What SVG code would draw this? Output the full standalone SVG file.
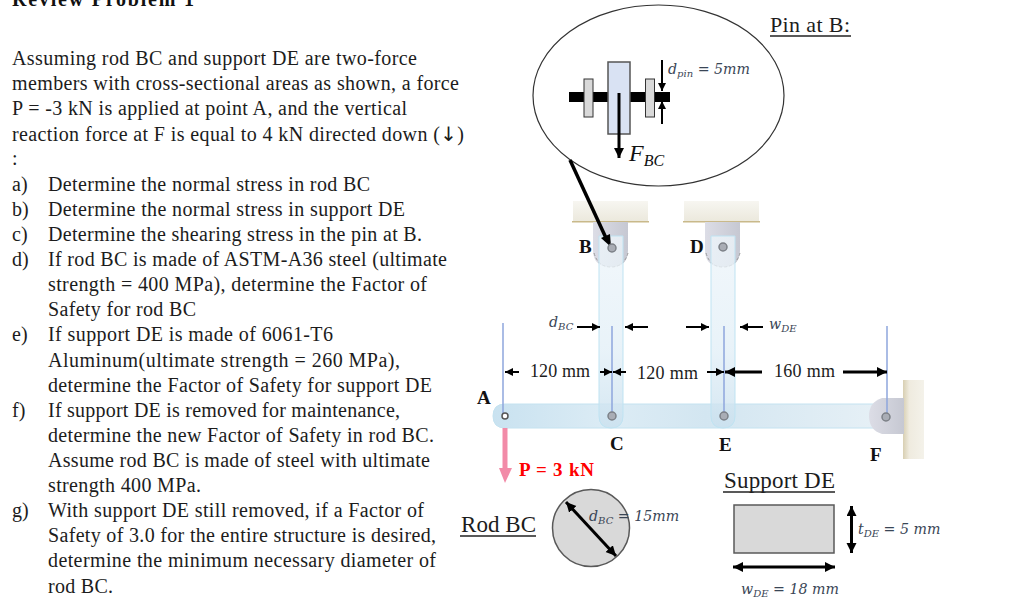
<svg xmlns="http://www.w3.org/2000/svg" width="1014" height="616" viewBox="0 0 1014 616">
<style>
.t{font-family:"Liberation Serif","Times New Roman",serif;font-size:20px;fill:#1c1c1c}
.b{font-family:"Liberation Serif","Times New Roman",serif;font-weight:bold;font-size:19px;fill:#111}
.dim{font-family:"Liberation Serif","Times New Roman",serif;font-size:18px;fill:#1c1c1c}
.m{font-family:"DejaVu Serif",serif;font-style:italic;font-size:14.2px;fill:#3a4656}
.s{font-size:10px}
.u{stroke:#222;stroke-width:1.6;fill:none}
.a{stroke:#000;stroke-width:2;fill:none;marker-end:url(#h)}
.a3{stroke:#000;stroke-width:3;fill:none;marker-end:url(#hb)}
.aa{stroke:#000;stroke-width:3;fill:none;marker-end:url(#hb);marker-start:url(#hb)}
.blue{stroke:#8ea6dc;stroke-width:1.5;fill:none}
.pin{fill:#a9adb5;stroke:#7c8087;stroke-width:1.5}
.rod{fill:url(#rv);fill-opacity:.78;stroke:#bfe3f2;stroke-width:1}
.cl{fill:url(#cg)}
.top{fill:url(#tg)}
.sec{fill:#d9d9d9;stroke:#595959;stroke-width:1.5}
</style>
<defs>
<marker id="h" markerUnits="userSpaceOnUse" markerWidth="10" markerHeight="10" refX="8" refY="4" orient="auto-start-reverse"><path d="M0 0L8 4L0 8Z" fill="#000"/></marker>
<marker id="hb" markerUnits="userSpaceOnUse" markerWidth="12" markerHeight="12" refX="10" refY="5" orient="auto-start-reverse"><path d="M0 0L10 5L0 10Z" fill="#000"/></marker>
<linearGradient id="rv" x1="0" y1="0" x2="0" y2="1"><stop offset="0" stop-color="#eef5fa"/><stop offset="0.6" stop-color="#e2eff7"/><stop offset="1" stop-color="#c9e0ee"/></linearGradient>
<linearGradient id="rh" x1="0" y1="0" x2="1" y2="0"><stop offset="0" stop-color="#c9e2f0"/><stop offset="0.3" stop-color="#dcecf5"/><stop offset="0.55" stop-color="#d3e6f1"/><stop offset="1" stop-color="#e6f0f6"/></linearGradient>
<linearGradient id="cg" x1="0" y1="0" x2="1" y2="0"><stop offset="0" stop-color="#dcdde6"/><stop offset="1" stop-color="#c6c8d2"/></linearGradient>
<linearGradient id="tg" x1="0" y1="0" x2="0" y2="1"><stop offset="0" stop-color="#f7f6f1"/><stop offset="1" stop-color="#ebe8dc"/></linearGradient>
<linearGradient id="wg" x1="0" y1="0" x2="1" y2="0"><stop offset="0" stop-color="#d8cfb2"/><stop offset="0.3" stop-color="#efebdf"/><stop offset="1" stop-color="#f4f2ea"/></linearGradient>
</defs>

<g id="problem-text">
<text class="b" x="12" y="6" textLength="182" style="font-size:20px">Review Problem 1</text>
<text class="t" x="12" y="65" textLength="405">Assuming rod BC and support DE are two-force</text>
<text class="t" x="12" y="90" textLength="447">members with cross-sectional areas as shown, a force</text>
<text class="t" x="12" y="115" textLength="395">P = -3 kN is applied at point A, and the vertical</text>
<text class="t" x="12" y="141" textLength="452">reaction force at F is equal to 4 kN directed down (<tspan font-family="DejaVu Sans,sans-serif">↓</tspan>)</text>
<text class="t" x="12" y="165">:</text>
<text class="t" x="12" y="191">a)</text><text class="t" x="48" y="191" textLength="322">Determine the normal stress in rod BC</text>
<text class="t" x="12" y="216">b)</text><text class="t" x="48" y="216" textLength="357">Determine the normal stress in support DE</text>
<text class="t" x="12" y="241">c)</text><text class="t" x="48" y="241" textLength="374">Determine the shearing stress in the pin at B.</text>
<text class="t" x="12" y="266">d)</text><text class="t" x="48" y="266" textLength="399">If rod BC is made of ASTM-A36 steel (ultimate</text>
<text class="t" x="48" y="291" textLength="379">strength = 400 MPa), determine the Factor of</text>
<text class="t" x="48" y="316" textLength="148">Safety for rod BC</text>
<text class="t" x="12" y="341">e)</text><text class="t" x="48" y="341" textLength="285">If support DE is made of 6061-T6</text>
<text class="t" x="48" y="367" textLength="352">Aluminum(ultimate strength = 260 MPa),</text>
<text class="t" x="48" y="392" textLength="384">determine the Factor of Safety for support DE</text>
<text class="t" x="12" y="417">f)</text><text class="t" x="48" y="417" textLength="352">If support DE is removed for maintenance,</text>
<text class="t" x="48" y="442" textLength="386">determine the new Factor of Safety in rod BC.</text>
<text class="t" x="48" y="467" textLength="382">Assume rod BC is made of steel with ultimate</text>
<text class="t" x="48" y="492" textLength="153">strength 400 MPa.</text>
<text class="t" x="12" y="517">g)</text><text class="t" x="48" y="517" textLength="376">With support DE still removed, if a Factor of</text>
<text class="t" x="48" y="542" textLength="388">Safety of 3.0 for the entire structure is desired,</text>
<text class="t" x="48" y="567" textLength="388">determine the minimum necessary diameter of</text>
<text class="t" x="48" y="593" textLength="65">rod BC.</text>
</g>

<g id="pin-at-b">
<text class="t" x="770" y="32" textLength="80" style="font-size:22px">Pin at B:</text>
<line class="u" x1="770" y1="36" x2="851" y2="36"/>
<ellipse cx="658.5" cy="95.5" rx="125.5" ry="90.5" fill="#fff" stroke="#333" stroke-width="1.2"/>
<rect x="569" y="92" width="101" height="10" fill="#000"/>
<rect x="584" y="79" width="9" height="38" fill="#d9d9d9" stroke="#333" stroke-width="1"/>
<rect x="645.500" y="79" width="9" height="38" fill="#d9d9d9" stroke="#333" stroke-width="1"/>
<rect x="608" y="62" width="22" height="72" fill="#d9e2f3" stroke="#555" stroke-width="1.5"/>
<line class="a3" x1="619" y1="93" x2="619" y2="158"/>
<text x="629" y="161" font-family="Liberation Serif,serif" font-style="italic" font-size="24" fill="#111">F<tspan font-size="16" dy="5">BC</tspan></text>
<line class="a" x1="662" y1="60" x2="662" y2="91"/>
<line class="a" x1="662" y1="124" x2="662" y2="101"/>
<text class="m" x="668" y="74">d<tspan class="s" dy="3">pin</tspan><tspan dy="-3"> = 5mm</tspan></text>
</g>

<g id="supports">
<rect class="top" x="573" y="201" width="75" height="21"/><rect x="572" y="221" width="77" height="1.500" fill="#c9b98a"/>
<rect class="top" x="684" y="201" width="75" height="21"/><rect x="683" y="221" width="77" height="1.500" fill="#c9b98a"/>
<path id="clevis-b" class="cl" d="M593 222H628V250Q628 267 611 267Q593 267 593 250Z"/>
<path id="clevis-d" class="cl" d="M705 222H740V250Q740 267 723 267Q705 267 705 250Z"/>
<path d="M594 253Q598 267 611 267Q624 267 628 253M706 253Q710 267 723 267Q736 267 740 253" fill="none" stroke="#9a9a9a" stroke-width="1" stroke-dasharray="3 2"/>
<path id="wall" fill="url(#wg)" d="M903 380H924V459H903Z"/>
</g>

<g id="bar-af">
<path fill="url(#rh)" stroke="#c4e2f0" stroke-width="1" d="M505 404H880V428H505Q493 428 493 416Q493 404 505 404Z"/>
</g>
<path id="clevis-f" fill="url(#cg)" d="M904 398H882Q869 402 869 416Q869 430 882 434H904Z"/>
<g id="rod-bc"><path class="rod" d="M599 236H623V416Q623 428 611 428Q599 428 599 416Z"/></g>
<g id="rod-de"><path class="rod" d="M711 236H735V416Q735 428 723 428Q711 428 711 416Z"/></g>

<g id="connectors">
<line class="blue" x1="503" y1="323" x2="503" y2="416"/>
<line class="blue" x1="612" y1="326" x2="612" y2="416"/>
<line class="blue" x1="724" y1="326" x2="724" y2="416"/>
<line class="blue" x1="887" y1="326" x2="887" y2="416"/>
<line class="a" x1="577" y1="327" x2="600" y2="327"/>
<line class="a" x1="648" y1="327" x2="625" y2="327"/>
<line class="a" x1="686" y1="327" x2="709" y2="327"/>
<line class="a" x1="763" y1="327" x2="740" y2="327"/>
<line class="a" x1="519" y1="372" x2="505" y2="372"/>
<line class="a" x1="600" y1="372" x2="612" y2="372"/>
<line class="a" x1="626" y1="372" x2="613" y2="372"/>
<line class="a" x1="707" y1="372" x2="724" y2="372"/>
<line class="a3" x1="762" y1="372" x2="725" y2="372"/>
<line class="a3" x1="843" y1="372" x2="887" y2="372"/>
<line x1="570" y1="160" x2="606" y2="238" stroke="#000" stroke-width="3.500"/>
<path d="M611 247L601 238L610 234Z" fill="#000"/>
<line x1="505" y1="428" x2="505" y2="470" stroke="#f28ba8" stroke-width="5"/>
<path d="M499 468H512L505 483Z" fill="#f28ba8"/>
</g>

<g id="pins">
<circle class="pin" cx="612" cy="248" r="4"/>
<circle class="pin" cx="723" cy="247" r="4"/>
<circle cx="505" cy="416" r="3" fill="#fff" stroke="#555" stroke-width="1.500"/>
<circle class="pin" cx="612" cy="416" r="4"/>
<circle class="pin" cx="724" cy="416" r="4"/>
<circle class="pin" cx="886" cy="417" r="4"/>
</g>

<g id="labels">
<text class="b" x="477" y="404">A</text>
<text class="b" x="579" y="253">B</text>
<text class="b" x="690" y="253">D</text>
<text class="b" x="610" y="450">C</text>
<text class="b" x="719" y="451">E</text>
<text class="b" x="870" y="461">F</text>
<text class="b" x="519" y="476" style="fill:#f00" textLength="75">P = 3 kN</text>
<text class="m" x="549" y="327">d<tspan class="s" dy="3">BC</tspan></text>
<text class="m" x="769" y="329">w<tspan class="s" dy="3">DE</tspan></text>
<text class="dim" x="530" y="377" textLength="60">120 mm</text>
<text class="dim" x="637" y="379" textLength="61">120 mm</text>
<text class="dim" x="774" y="377" textLength="61">160 mm</text>
</g>

<g id="section-rod-bc">
<text class="t" x="461" y="532" textLength="75" style="font-size:23px">Rod BC</text>
<line class="u" x1="460" y1="536" x2="536" y2="536"/>
<circle class="sec" cx="591" cy="528" r="38.500"/>
<line class="aa" x1="566" y1="502" x2="616" y2="556"/>
<text class="m" x="589" y="521">d<tspan class="s" dy="3">BC</tspan><tspan dy="-3"> = 15mm</tspan></text>
</g>

<g id="section-support-de">
<text class="t" x="724" y="488" textLength="111" style="font-size:23px">Support DE</text>
<line class="u" x1="723" y1="492" x2="835" y2="492"/>
<rect class="sec" x="734" y="505" width="100" height="48"/>
<line class="aa" x1="851.500" y1="506" x2="851.500" y2="553"/>
<line class="aa" x1="733" y1="567" x2="835" y2="567"/>
<text class="m" x="858" y="534">t<tspan class="s" dy="3">DE</tspan><tspan dy="-3"> = 5 mm</tspan></text>
<text class="m" x="741" y="594">w<tspan class="s" dy="3">DE</tspan><tspan dy="-3"> = 18 mm</tspan></text>
</g>
</svg>
